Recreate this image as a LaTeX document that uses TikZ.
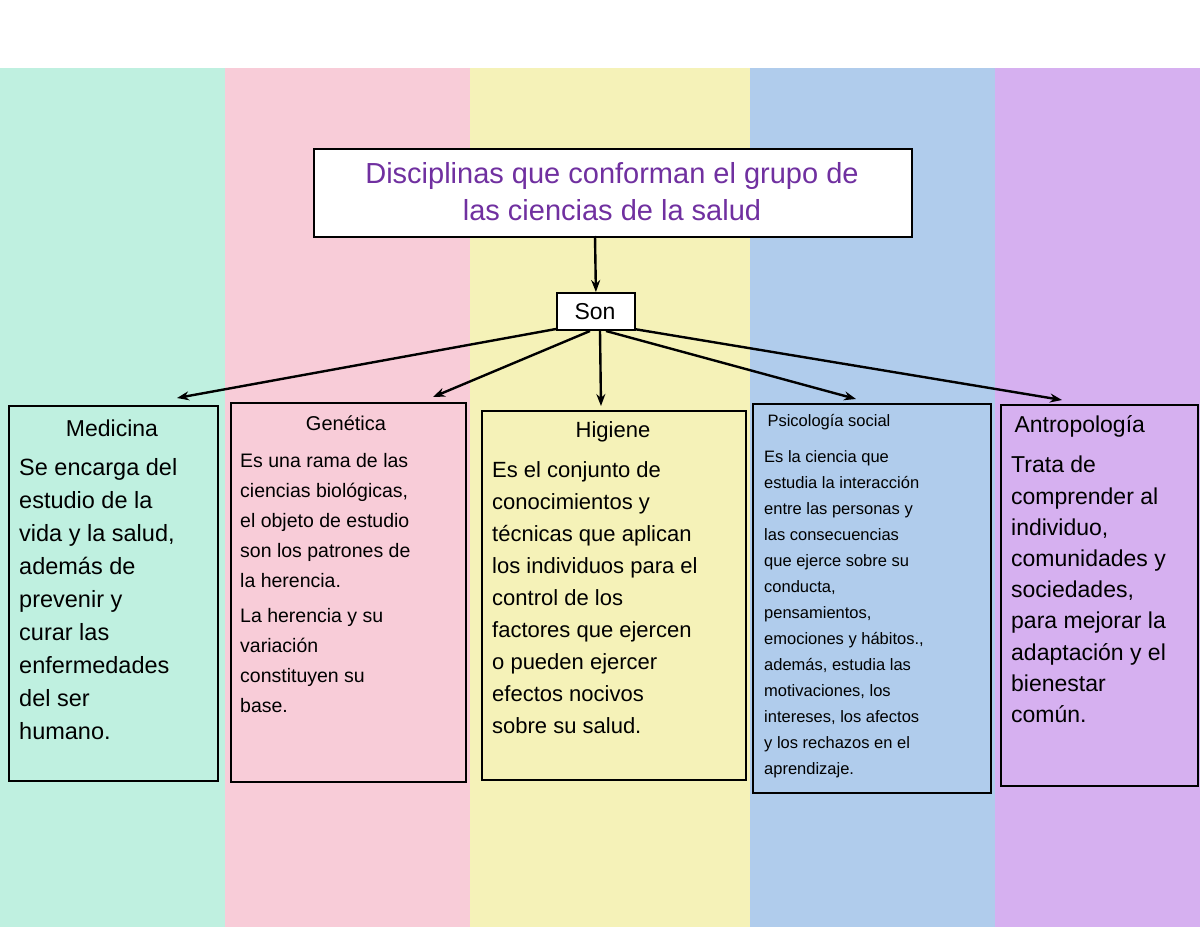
\documentclass[tikz,border=0pt]{standalone}
\usepackage{fontspec}
\setmainfont{Liberation Sans}
\usetikzlibrary{arrows.meta}
\definecolor{cteal}{HTML}{BFF0E0}
\definecolor{cpink}{HTML}{F8CCD8}
\definecolor{cyel}{HTML}{F5F2B8}
\definecolor{cblue}{HTML}{B0CCEC}
\definecolor{cpurp}{HTML}{D6B0F0}
\definecolor{ttl}{HTML}{7030A0}
\tikzset{
  box/.style={draw=black,line width=1.8pt,anchor=north west,inner sep=0pt},
  body/.style={anchor=north west,align=left,inner sep=0pt},
  arr/.style={-{Stealth[length=12pt,width=9pt]},line width=2.4pt}
}
\begin{document}
\begin{tikzpicture}[x=1pt,y=-1pt]
\useasboundingbox (0,0) rectangle (1200,927);
\fill[white] (0,0) rectangle (1200,927);
\fill[cteal] (0,68) rectangle (225,927);
\fill[cpink] (225,68) rectangle (470,927);
\fill[cyel] (470,68) rectangle (750,927);
\fill[cblue] (750,68) rectangle (995,927);
\fill[cpurp] (995,68) rectangle (1200,927);
% title
\node[box,fill=white,minimum width=598pt,minimum height=88pt] (t) at (313,148) {};
\node[text=ttl,align=center,font=\fontsize{29}{37}\selectfont] (tt) at (612,192) {Disciplinas que conforman el grupo de\\las ciencias de la salud};
\node[box,fill=white,minimum width=78pt,minimum height=37pt] (son) at (556,292) {};
\node[font=\fontsize{23}{26}\selectfont] (sont) at (595,312) {Son};
\coordinate (tb) at (595,236);
\draw[arr] (tb) -- (son.north);
% boxes
\node[box,fill=cteal,minimum width=209pt,minimum height=375pt] (b1) at (8,405) {};
\node[box,fill=cpink,minimum width=235pt,minimum height=379pt] (b2) at (230,402) {};
\node[box,fill=cyel,minimum width=264pt,minimum height=369pt] (b3) at (481,410) {};
\node[box,fill=cblue,minimum width=238pt,minimum height=389pt] (b4) at (752,403) {};
\node[box,fill=cpurp,minimum width=197pt,minimum height=381pt] (b5) at (1000,404) {};
\coordinate (s1) at (556,329);
\coordinate (s2) at (590,331);
\coordinate (s3) at (600,331);
\coordinate (s4) at (606,331);
\coordinate (s5) at (634,329);
\coordinate (e1) at (177,398);
\coordinate (e2) at (433,397);
\coordinate (e3) at (601,406);
\coordinate (e4) at (856,399);
\coordinate (e5) at (1062,400);
\draw[arr] (s1) -- (e1);
\draw[arr] (s2) -- (e2);
\draw[arr] (s3) -- (e3);
\draw[arr] (s4) -- (e4);
\draw[arr] (s5) -- (e5);
% texts
\node[font=\fontsize{23}{26}\selectfont] (h1) at (112,428) {Medicina};
\node[body,font=\fontsize{23.5}{33}\selectfont] (x1) at (19,458) {Se encarga del\\estudio de la\\vida y la salud,\\además de\\prevenir y\\curar las\\enfermedades\\del ser\\humano.};
\node[font=\fontsize{20}{24}\selectfont] (h2) at (346,423) {Genética};
\node[body,font=\fontsize{19.5}{30}\selectfont] (x2) at (240,453) {Es una rama de las\\ciencias biológicas,\\el objeto de estudio\\son los patrones de\\la herencia.\\[5pt]La herencia y su\\variación\\constituyen su\\base.};
\node[font=\fontsize{22}{26}\selectfont] (h3) at (613,432) {Higiene};
\node[body,font=\fontsize{22}{32}\selectfont] (x3) at (492,461) {Es el conjunto de\\conocimientos y\\técnicas que aplican\\los individuos para el\\control de los\\factores que ejercen\\o pueden ejercer\\efectos nocivos\\sobre su salud.};
\node[anchor=west,font=\fontsize{16.5}{20}\selectfont] (h4) at (764,422) {Psicología social};
\node[body,font=\fontsize{16.5}{26}\selectfont] (x4) at (764,450) {Es la ciencia que\\estudia la interacción\\entre las personas y\\las consecuencias\\que ejerce sobre su\\conducta,\\pensamientos,\\emociones y hábitos.,\\además, estudia las\\motivaciones, los\\intereses, los afectos\\y los rechazos en el\\aprendizaje.};
\node[anchor=west,font=\fontsize{23}{26}\selectfont] (h5) at (1011,426) {Antropología};
\node[body,font=\fontsize{23}{31.2}\selectfont] (x5) at (1011,456) {Trata de\\comprender al\\individuo,\\comunidades y\\sociedades,\\para mejorar la\\adaptación y el\\bienestar\\común.};
\end{tikzpicture}
\end{document}
